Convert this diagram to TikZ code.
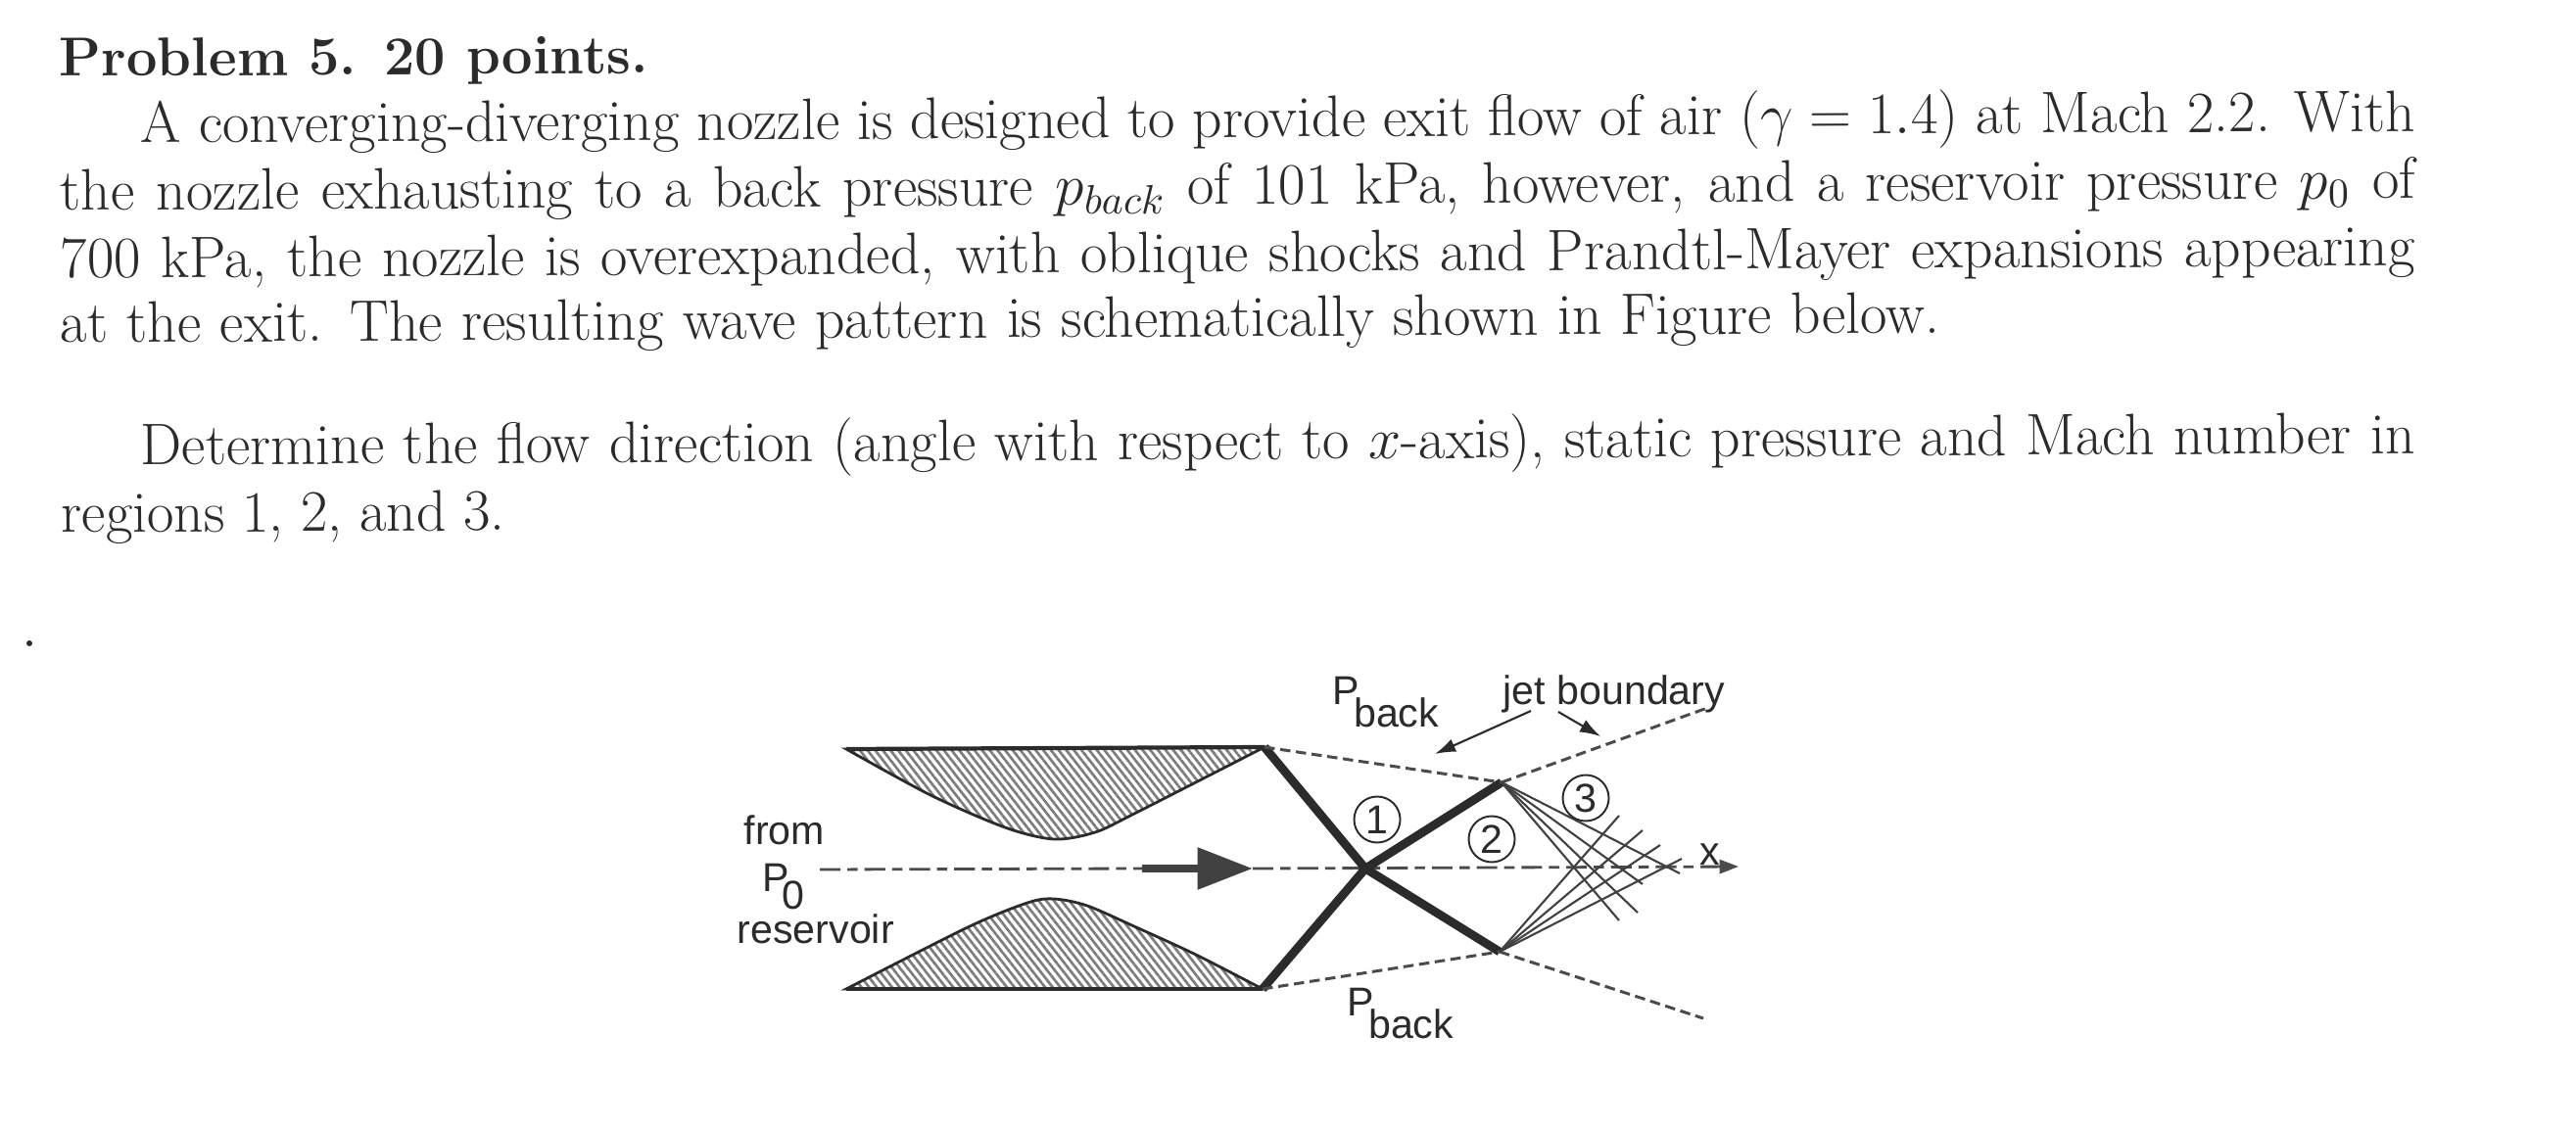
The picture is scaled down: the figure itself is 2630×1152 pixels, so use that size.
\RequirePackage{fix-cm}
\documentclass[tikz,border=0pt]{standalone}
\usepackage{fontspec}
\usetikzlibrary{arrows.meta,patterns.meta}
\newfontfamily\helvfont{Liberation Sans}
\definecolor{ink}{gray}{0.17}
\tikzset{txtline/.style={anchor=base west,inner sep=0pt,rotate=0.3,text=ink,font=\fontsize{17}{20}\selectfont},
	lbl/.style={anchor=base west,inner sep=0pt,text=ink,font=\helvfont\fontsize{11.7}{14}\selectfont},
	region/.style={circle,draw=ink,line width=0.55pt,minimum size=0.47cm,inner sep=0pt,text=ink,font=\helvfont\fontsize{11.7}{14}\selectfont},
	wall/.style={draw=ink,line width=0.8pt,pattern color=ink!62,pattern={Lines[angle=-52,distance=1.75pt,line width=0.75pt]}},
	wallline/.style={ink,line width=1.2pt},
	shock/.style={ink,line width=2.5pt},
	jetline/.style={ink!85,line width=0.85pt,dash pattern=on 3pt off 1.6pt},
	fan/.style={ink!90,line width=0.6pt},
	axisline/.style={ink!85,line width=0.8pt,dash pattern=on 6pt off 2pt on 3pt off 2pt}}
\begin{document}
\begin{tikzpicture}[x=0.01cm,y=-0.01cm]
		\useasboundingbox (0,0) rectangle (2630,1152);
		% problem text
		\node[txtline,font=\fontsize{15.9}{20}\selectfont] (t0) at (60,78){\bfseries Problem 5. 20 points.};
		\node[txtline] (t1) at (143,146){\makebox[23.21cm][s]{A converging-diverging nozzle is designed to provide exit flow of air ($\gamma=1.4$) at Mach 2.2. With}};
		\node[txtline] (t2) at (61,215){\makebox[24.03cm][s]{the nozzle exhausting to a back pressure $p_{back}$ of 101 kPa, however, and a reservoir pressure $p_0$ of}};
		\node[txtline] (t3) at (61,284){\makebox[24.03cm][s]{700 kPa, the nozzle is overexpanded, with oblique shocks and Prandtl-Mayer expansions appearing}};
		\node[txtline] (t4) at (61,350){\makebox[19.18cm][s]{at the exit. The resulting wave pattern is schematically shown in Figure below.}};
		\node[txtline] (t5) at (143,475){\makebox[23.21cm][s]{Determine the flow direction (angle with respect to $x$-axis), static pressure and Mach number in}};
		\node[txtline] (t6) at (62,544){\makebox[4.53cm][s]{regions 1, 2, and 3.}};
		\fill[ink] (30,657) circle (3);
		% nozzle
		\coordinate (tl) at (864,765);
		\coordinate (tr) at (1291,763);
		\coordinate (bl) at (864,1010);
		\coordinate (br) at (1289,1010);
		\draw[wall] plot[smooth,tension=0.5] coordinates {(864,765) (950,812) (1026,845) (1076,857) (1118,850) (1160,830) (1291,763)} -- cycle;
		\draw[wall] plot[smooth,tension=0.5] coordinates {(864,1010) (988,947) (1049,922) (1076,918) (1110,925) (1160,947) (1221,975) (1289,1010)} -- cycle;
		\draw[wallline] (tl) -- (tr);
		\draw[wallline] (bl) -- (br);
		% axis
		\coordinate (ax0) at (837,888);
		\coordinate (ax1) at (1166,887);
		\coordinate (ax2) at (1279,887);
		\coordinate (ax3) at (1775,885);
		\draw[axisline] (ax0) -- (ax1);
		\draw[axisline,-{Triangle[length=5.5pt,width=4pt]}] (ax2) -- (ax3);
		\draw[ink!90,line width=2.3pt,-{Triangle[length=16pt,width=11.7pt]}] (ax1) -- (ax2);
		% shocks
		\coordinate (cr) at (1394,887);
		\coordinate (up) at (1533,799);
		\coordinate (lo) at (1531,972);
		\draw[shock] (tr) -- (cr);
		\draw[shock] (br) -- (cr);
		\draw[shock] (cr) -- (up);
		\draw[shock] (cr) -- (lo);
		% jet boundary
		\coordinate (je1) at (1743,723);
		\coordinate (je2) at (1739,1040);
		\draw[jetline] (tr) -- (up);
		\draw[jetline] (up) -- (je1);
		\draw[jetline] (br) -- (lo);
		\draw[jetline] (lo) -- (je2);
		% expansion fans
		\foreach \xe/\ye in {1653/940,1672/932,1677/903,1715/892}
			\draw[fan] (up) -- (\xe,\ye);
		\foreach \xe/\ye in {1653/833,1677/848,1695/863,1717/877}
			\draw[fan] (lo) -- (\xe,\ye);
		% labels
		\node[region] (r1) at (1406,837){1};
		\node[region] (r2) at (1523,857){2};
		\node[region] (r3) at (1619,815){3};
		\node[lbl] (from) at (759,862){from};
		\node[lbl] (p0) at (778,910){P\kern-0.08cm\raisebox{-0.18cm}{0}};
		\node[lbl] (res) at (752,963){reservoir};
		\node[lbl] (pb1) at (1360,719){P\kern-0.06cm\raisebox{-0.23cm}{back}};
		\node[lbl] (pb2) at (1375,1037){P\kern-0.06cm\raisebox{-0.23cm}{back}};
		\node[lbl] (jet) at (1534,719){jet boundary};
		\node[lbl] (xl) at (1735,883){x};
		\coordinate (ja1) at (1563,726);
		\coordinate (ja2) at (1465,770);
		\coordinate (jb1) at (1591,727);
		\coordinate (jb2) at (1634,752);
		\draw[ink,line width=0.6pt,-{Latex[length=6pt,width=4pt]}] (ja1) -- (ja2);
		\draw[ink,line width=0.6pt,-{Latex[length=6pt,width=4pt]}] (jb1) -- (jb2);
\end{tikzpicture}
\end{document}
